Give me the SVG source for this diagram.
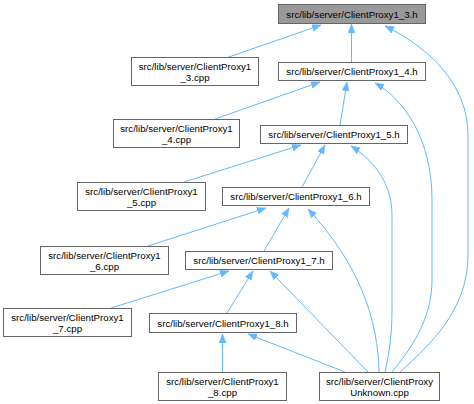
<svg xmlns="http://www.w3.org/2000/svg" width="474" height="404" viewBox="0 0 474 404">
<defs>
<style>
.box{fill:#ffffff;stroke:#666666;stroke-width:1}
.cur{fill:#999999;stroke:#666666;stroke-width:1}
.t{font-family:"Liberation Sans",Arial,sans-serif;font-size:9.7px;fill:#000000;text-anchor:middle}
.e{fill:none;stroke:#63b8ff;stroke-width:1;marker-end:url(#ah)}
</style>
<marker id="ah" markerUnits="userSpaceOnUse" markerWidth="10" markerHeight="8" refX="9" refY="3.5" orient="auto">
<path d="M0,0 L9,3.5 L0,7 z" fill="#63b8ff" stroke="#63b8ff" stroke-width="0.5"/>
</marker>
</defs>
<rect width="474" height="404" fill="#ffffff"/>
<g id="edges">
<path class="e" d="M226,58 L321,25"/>
<path class="e" d="M351.5,62 L351.5,24"/>
<path class="e" d="M400,372 C430,345 468,310 468,255 L468,135 C468,85 430,48 385,26"/>
<path class="e" d="M215,119 L320,82"/>
<path class="e" d="M340,125 L347,82"/>
<path class="e" d="M392,372 C410,350 432,320 432,280 L432,200 C432,140 405,100 375,83"/>
<path class="e" d="M184,182 L301,145"/>
<path class="e" d="M302,187 L325,145"/>
<path class="e" d="M385,372 C390,350 392,330 392,310 L392,215 C392,180 370,158 351,146"/>
<path class="e" d="M148,246 L266,208"/>
<path class="e" d="M264,251 L289,208"/>
<path class="e" d="M379,372 C378,320 360,265 308,209"/>
<path class="e" d="M111,308 L229,271"/>
<path class="e" d="M227,313 L253,271"/>
<path class="e" d="M368,372 L270,271"/>
<path class="e" d="M222.5,372 L222.5,334"/>
<path class="e" d="M345,372 L248,334"/>
</g>
<g id="n0"><rect class="cur" x="278.5" y="4.5" width="147" height="19"/><text class="t" x="352" y="17.5">src/lib/server/ClientProxy1_3.h</text></g>
<g id="n1"><rect class="box" x="131.5" y="57.5" width="127" height="28"/><text class="t" x="195" y="70">src/lib/server/ClientProxy1</text><text class="t" x="195" y="81">_3.cpp</text></g>
<g id="n2"><rect class="box" x="278.5" y="62.5" width="147" height="18"/><text class="t" x="352" y="75">src/lib/server/ClientProxy1_4.h</text></g>
<g id="n3"><rect class="box" x="113.5" y="119.5" width="126" height="28"/><text class="t" x="176.5" y="132">src/lib/server/ClientProxy1</text><text class="t" x="176.5" y="143">_4.cpp</text></g>
<g id="n4"><rect class="box" x="260.5" y="125.5" width="147" height="18"/><text class="t" x="334" y="138">src/lib/server/ClientProxy1_5.h</text></g>
<g id="n5"><rect class="box" x="77.5" y="182.5" width="128" height="28"/><text class="t" x="141.5" y="195">src/lib/server/ClientProxy1</text><text class="t" x="141.5" y="206">_5.cpp</text></g>
<g id="n6"><rect class="box" x="222.5" y="187.5" width="147" height="18"/><text class="t" x="296" y="200">src/lib/server/ClientProxy1_6.h</text></g>
<g id="n7"><rect class="box" x="40.5" y="246.5" width="128" height="28"/><text class="t" x="104.5" y="259">src/lib/server/ClientProxy1</text><text class="t" x="104.5" y="270">_6.cpp</text></g>
<g id="n8"><rect class="box" x="185.5" y="251.5" width="147" height="18"/><text class="t" x="259" y="264">src/lib/server/ClientProxy1_7.h</text></g>
<g id="n9"><rect class="box" x="3.5" y="308.5" width="128" height="28"/><text class="t" x="67.5" y="321">src/lib/server/ClientProxy1</text><text class="t" x="67.5" y="332">_7.cpp</text></g>
<g id="n10"><rect class="box" x="149.5" y="313.5" width="147" height="19"/><text class="t" x="223" y="326.5">src/lib/server/ClientProxy1_8.h</text></g>
<g id="n11"><rect class="box" x="158.5" y="372.5" width="128" height="28"/><text class="t" x="222.5" y="385">src/lib/server/ClientProxy1</text><text class="t" x="222.5" y="396">_8.cpp</text></g>
<g id="n12"><rect class="box" x="319.5" y="372.5" width="120" height="28"/><text class="t" x="379.5" y="385">src/lib/server/ClientProxy</text><text class="t" x="379.5" y="396">Unknown.cpp</text></g>
</svg>
